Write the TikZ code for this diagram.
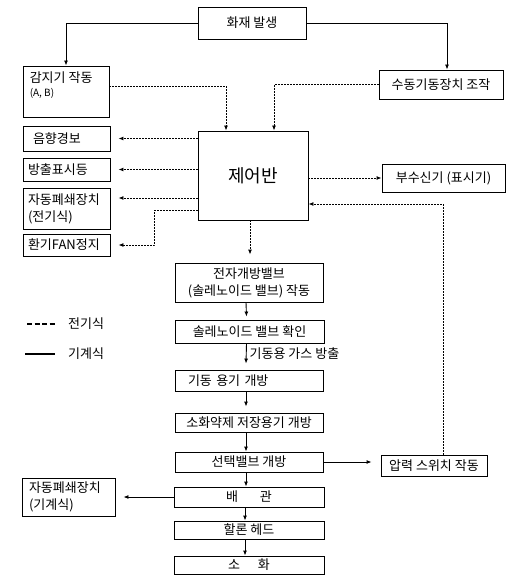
\documentclass[tikz,border=0pt]{standalone}
\usepackage{fontspec}
\setmainfont{Noto Sans CJK KR}
\usetikzlibrary{arrows.meta,calc}
\tikzset{
  box/.style={draw, line width=0.9pt, inner sep=0pt, font=\fontsize{13}{17}\selectfont, align=center},
  lbox/.style={box, inner xsep=5pt, align=left},
  arr/.style={line width=0.9pt, -{Latex[length=5pt,width=4pt]}},
  darr/.style={arr, dash pattern=on 2pt off 1pt},
  lbl/.style={inner sep=0pt, font=\fontsize{13}{17}\selectfont},
}
\begin{document}
\begin{tikzpicture}[x=1pt,y=-1pt]
\useasboundingbox (0,0) rectangle (527,580);
% boxes
\node[box, minimum width=108, minimum height=32] (fire) at (252,23) {화재 발생};
\node[box, minimum width=86, minimum height=51] (det) at (66,91.5) {};
\node[lbl, anchor=north west, align=left] (dett) at ([shift={(7,6)}]det.north west) {감지기 작동\\[-3pt]{\fontsize{10}{12}\selectfont (A, B)}};
\node[box, minimum width=124, minimum height=29] (man) at (441,84.5) {수동기동장치 조작};
\node[lbox, text width=77, minimum height=25] (snd) at (66.5,138.5) {\hspace{5pt}음향경보};
\node[lbox, text width=77, minimum height=23] (lamp) at (66.5,169.5) {방출표시등};
\node[lbox, text width=77, minimum height=41] (elec) at (66.5,208.5) {자동폐쇄장치\\(전기식)};
\node[lbox, text width=77, minimum height=22] (fan) at (66.5,245) {환기FAN정지};
\node[box, minimum width=110, minimum height=89, font=\fontsize{18}{20}\selectfont] (ctrl) at (253,175.5) {제어반};
\node[box, minimum width=123, minimum height=28] (sub) at (443.5,178) {부수신기 (표시기)};
\node[box, minimum width=148, minimum height=39] (sol1) at (249,282.5) {전자개방밸브\\(솔레노이드 밸브) 작동};
\node[box, minimum width=149, minimum height=23] (sol2) at (249.5,331.5) {솔레노이드 밸브 확인};
\node[lbox, inner xsep=13pt, text width=122, minimum height=21] (start) at (249,380.5) {기동 용기 개방};
\node[box, minimum width=148, minimum height=19] (agent) at (249,422.5) {소화약제 저장용기 개방};
\node[box, minimum width=148, minimum height=20] (sel) at (249,462) {선택밸브 개방};
\node[box, minimum width=106, minimum height=21] (psw) at (434,465.5) {압력 스위치 작동};
\node[box, minimum width=150, minimum height=20] (pipe) at (249,497) {배\hspace{22pt}관};
\node[lbox, inner xsep=7pt, text width=79, minimum height=38] (mech) at (68.5,497) {자동폐쇄장치\\(기계식)};
\node[box, minimum width=150, minimum height=18] (head) at (249,530) {할론 헤드};
\node[box, minimum width=150, minimum height=18] (ext) at (249,565) {소\hspace{18pt}화};
% mechanical connectors
\draw[arr] (fire.west) -| (det.north);
\draw[arr] (fire.east) -| ([xshift=6]man.north);
\draw[arr] ([xshift=-3]sol1.south) -- ([shift={(-3,-3)}]sol2.north);
\draw[arr] ([xshift=-3]sol2.south) -- node[lbl, right=3pt] (gas) {기동용 가스 방출} ([shift={(-3,-6)}]start.north);
\draw[arr] ([xshift=-3]start.south) -- ([shift={(-3,-6)}]agent.north);
\draw[arr] ([xshift=-3]agent.south) -- ([xshift=-3]sel.north);
\draw[arr] ([xshift=-3]sel.south) -- ([xshift=-3]pipe.north);
\draw[arr] ([xshift=-4]pipe.south) -- ([xshift=-4]head.north);
\draw[arr] ([xshift=-4]head.south) -- ([xshift=-4]ext.north);
\draw[arr] (sel.east) -- ($(psw.west |- sel.east)+(-9,0)$);
\draw[arr] (pipe.west) -- ([xshift=8]mech.east);
% electrical connectors
\draw[darr] ([yshift=5.5]det.east) -| ([xshift=-27]ctrl.north);
\draw[darr] (man.west) -| ([xshift=21]ctrl.north);
\draw[darr] (ctrl.west |- snd.east) -- ([xshift=8]snd.east);
\draw[darr] (ctrl.west |- lamp.east) -- ([xshift=8]lamp.east);
\coordinate (e3) at ([shift={(8,-10.5)}]elec.east);
\draw[darr] (ctrl.west |- e3) -- (e3);
\draw[darr] ([yshift=-34.5]ctrl.west) -- ++(-43,0) |- ([xshift=8]fan.east);
\draw[darr] ([xshift=-3]ctrl.south) -- ($(ctrl.south |- sol1.north)+(-3,-8)$);
\draw[darr] (ctrl.east |- sub.west) -- (sub.west);
\draw[darr] ([xshift=9]psw.north) |- ([yshift=-28.5]ctrl.east);
% legend
\draw[line width=1.2pt, dash pattern=on 5pt off 2.5pt] (27,324) -- (56,324);
\node[lbl, anchor=west] (lg1) at (68,324) {전기식};
\draw[line width=1.2pt] (25,354) -- (55,354);
\node[lbl, anchor=west] (lg2) at (68,354) {기계식};
\end{tikzpicture}
\end{document}
